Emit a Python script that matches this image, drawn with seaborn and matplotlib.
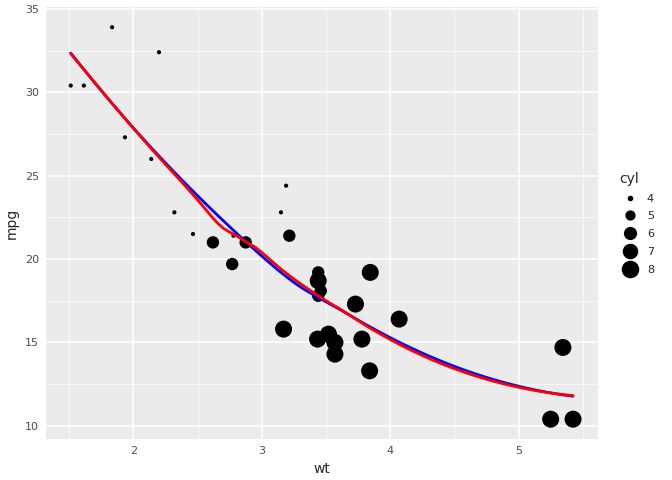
import numpy as np
import pandas as pd
import seaborn as sns
import matplotlib.pyplot as plt
from matplotlib.lines import Line2D

wt = [2.620, 2.875, 2.320, 3.215, 3.440, 3.460, 3.570, 3.190, 3.150, 3.440, 3.440,
      4.070, 3.730, 3.780, 5.250, 5.424, 5.345, 2.200, 1.615, 1.835, 2.465, 3.520,
      3.435, 3.840, 3.845, 1.935, 2.140, 1.513, 3.170, 2.770, 3.570, 2.780]
mpg = [21.0, 21.0, 22.8, 21.4, 18.7, 18.1, 14.3, 24.4, 22.8, 19.2, 17.8,
       16.4, 17.3, 15.2, 10.4, 10.4, 14.7, 32.4, 30.4, 33.9, 21.5, 15.5,
       15.2, 13.3, 19.2, 27.3, 26.0, 30.4, 15.8, 19.7, 15.0, 21.4]
cyl = [6, 6, 4, 6, 8, 6, 8, 4, 4, 6, 6, 8, 8, 8, 8, 8, 8, 4, 4, 4, 4, 8,
       8, 8, 8, 4, 4, 4, 8, 6, 8, 4]
cyl_breaks = [4, 5, 6, 7, 8]

df = pd.DataFrame({"wt": wt, "mpg": mpg, "cyl": cyl})


def loess(x, y, xs, span=0.75, degree=2):
    x = np.asarray(x); y = np.asarray(y)
    n = len(x); q = int(np.floor(span * n))
    out = []
    for x0 in xs:
        d = np.abs(x - x0)
        h = np.sort(d)[q - 1]
        w = np.clip(1 - (d / h) ** 3, 0, None) ** 3
        X = np.vander(x - x0, degree + 1)
        W = np.sqrt(w)
        beta = np.linalg.lstsq(X * W[:, None], y * W, rcond=None)[0]
        out.append(beta[-1])
    return np.array(out)


grid = np.linspace(min(wt), max(wt), 80)
fit_blue = loess(wt, mpg, grid, span=0.95, degree=2)
fit_red = loess(wt, mpg, grid, span=0.85, degree=2)

sns.set_theme(style="darkgrid", rc={"axes.facecolor": "#EBEBEB", "grid.color": "white"})
fig, ax = plt.subplots(figsize=(6.72, 4.8), dpi=100)

def s_of(c):
    return 9 + (c - 4) / 4 * (135 - 9)

sns.scatterplot(data=df, x="wt", y="mpg", size="cyl", sizes=(9, 150), size_norm=(4, 8),
                color="black", edgecolor="none", legend=False, ax=ax, zorder=3)
sns.lineplot(x=grid, y=fit_blue, color="blue", lw=2, ax=ax, zorder=4)
sns.lineplot(x=grid, y=fit_red, color="red", lw=2, ax=ax, zorder=5)

ax.set_xlim(1.318, 5.619)
ax.set_ylim(9.2, 35.1)
ax.set_xticks([2, 3, 4, 5])
ax.set_yticks([10, 15, 20, 25, 30, 35])
ax.set_xticks([1.5, 2.5, 3.5, 4.5, 5.5], minor=True)
ax.set_yticks([12.5, 17.5, 22.5, 27.5, 32.5], minor=True)
ax.grid(which="major", color="white", lw=1.1)
ax.grid(which="minor", color="white", lw=0.5)
ax.tick_params(which="both", length=3, colors="#4D4D4D", labelsize=8, pad=2)
ax.tick_params(which="minor", length=0)
for sp in ax.spines.values():
    sp.set_visible(False)
ax.set_xlabel("wt", fontsize=10)
ax.set_ylabel("mpg", fontsize=10)

handles = [Line2D([], [], marker="o", ls="", color="black", markersize=np.sqrt(s_of(c)))
           for c in cyl_breaks]
leg = ax.legend(handles, [str(c) for c in cyl_breaks], title="cyl", loc="center left",
                bbox_to_anchor=(1.02, 0.5), frameon=False, fontsize=8, title_fontsize=10,
                labelspacing=0.7, handletextpad=0.5)
leg._legend_box.align = "left"

fig.subplots_adjust(left=0.068, right=0.89, top=0.985, bottom=0.085)
fig.savefig("out.png")
